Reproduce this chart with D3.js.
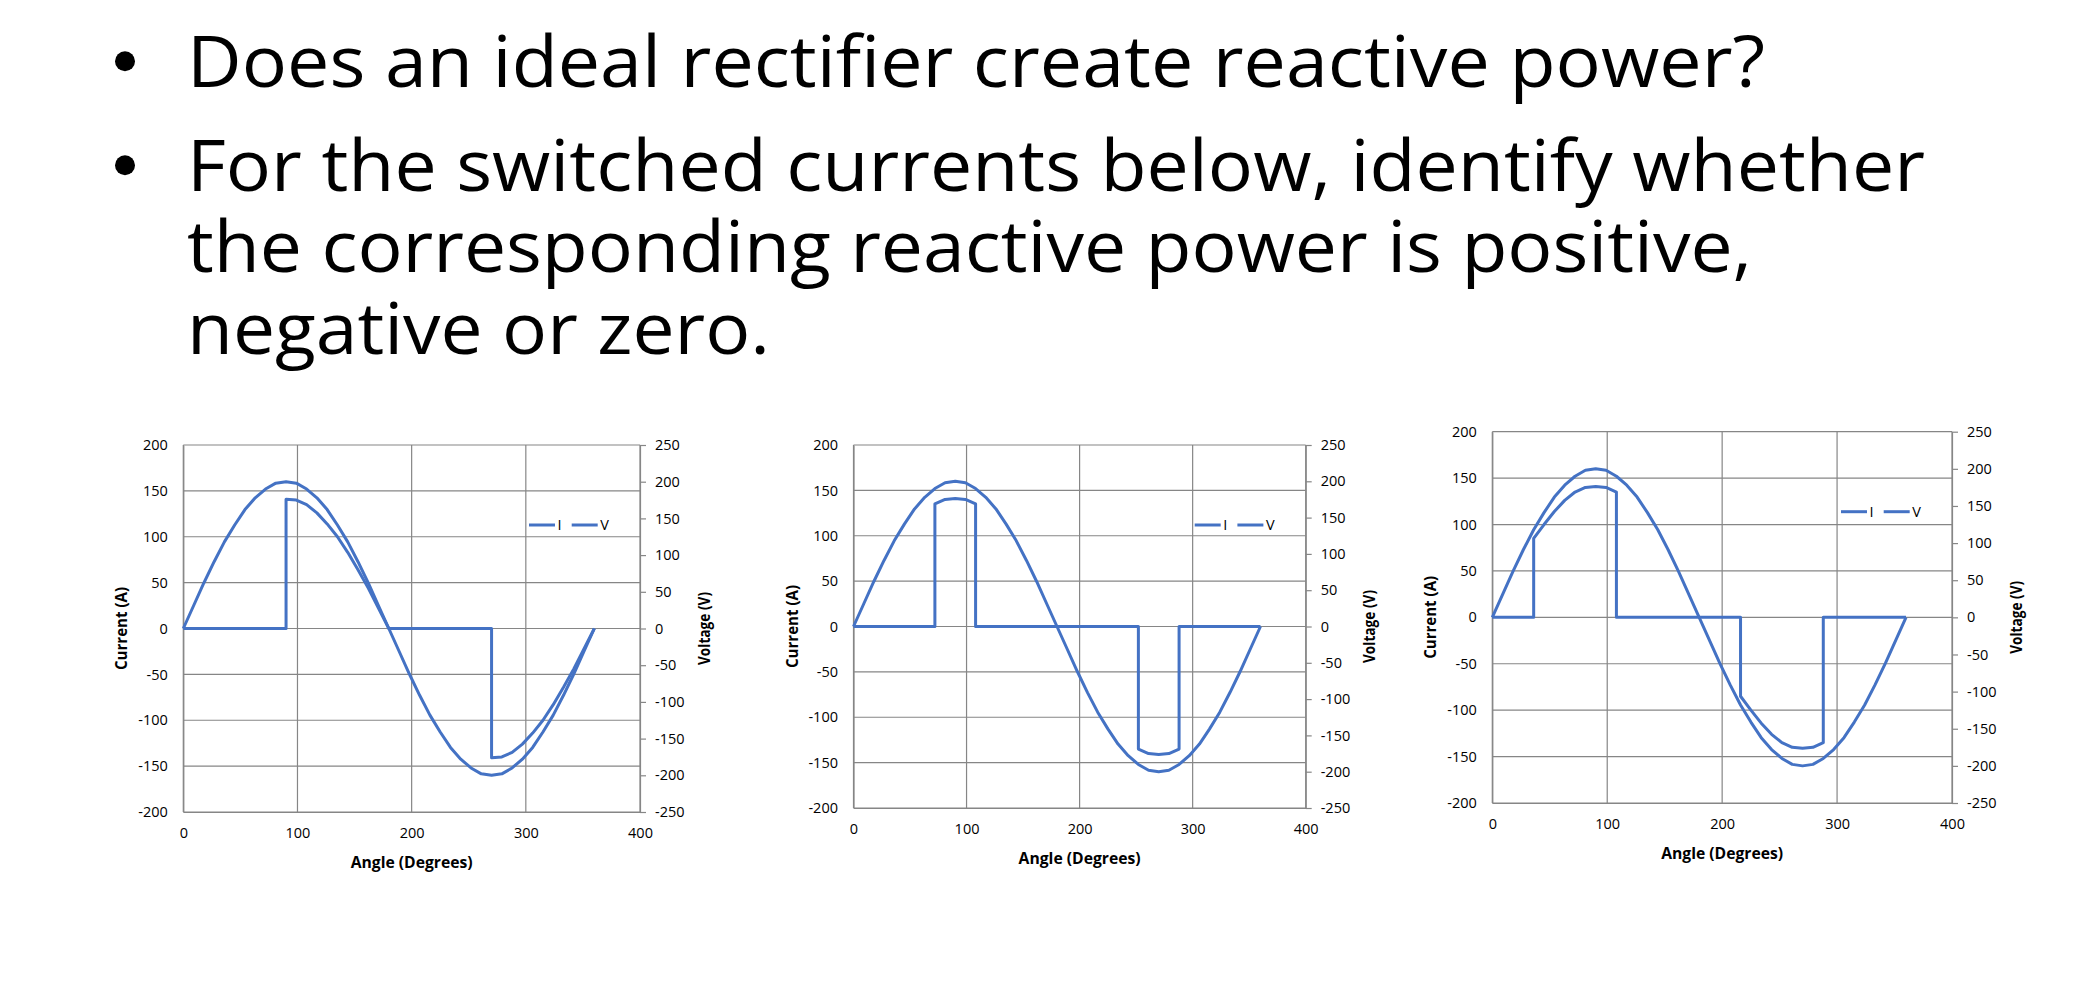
<!DOCTYPE html>
<html>
<head>
<meta charset="utf-8">
<title>Reactive power of switched currents</title>
<script src="https://cdn.jsdelivr.net/npm/d3@7"></script>
<style>
    body { margin: 0; background: #fff; }
    svg text { font-family: "Open Sans", sans-serif; }
</style>
</head>
<body>
<div id="slide"></div>
<script>

// slide text
var slideLines = [
    "Does an ideal rectifier create reactive power?",
    "For the switched currents below, identify whether",
    "the corresponding reactive power is positive,",
    "negative or zero."
];
var bulletOnLine = [true, true, false, false];

// axis ticks
var angleTicks = [0, 100, 200, 300, 400];
var currentTicks = [-200, -150, -100, -50, 0, 50, 100, 150, 200];
var voltageTicks = [-250, -200, -150, -100, -50, 0, 50, 100, 150, 200, 250];

// voltage samples (V), one every 9 degrees
var angles = [0, 9, 18, 27, 36, 45, 54, 63, 72, 81, 90, 99, 108, 117, 126, 135, 144, 153, 162, 171,
    180, 189, 198, 207, 216, 225, 234, 243, 252, 261, 270, 279, 288, 297, 306, 315, 324, 333, 342, 351, 360];
var voltage = [0, 31, 62, 91, 118, 141, 162, 178, 190, 198, 200, 198, 190, 178, 162, 141, 118, 91, 62, 31,
    0, -31, -62, -91, -118, -141, -162, -178, -190, -198, -200, -198, -190, -178, -162, -141, -118, -91, -62, -31, 0];

// switched currents (A): [angle, current]
var currentA = [[0, 0], [90, 0], [90, 141], [99, 140], [108, 135], [117, 126], [126, 114], [135, 100],
    [144, 83], [153, 64], [162, 44], [171, 22], [180, 0], [270, 0], [270, -141], [279, -140], [288, -135],
    [297, -126], [306, -114], [315, -100], [324, -83], [333, -64], [342, -44], [351, -22], [360, 0]];
var currentB = [[0, 0], [72, 0], [72, 135], [81, 140], [90, 141], [99, 140], [108, 135], [108, 0],
    [252, 0], [252, -135], [261, -140], [270, -141], [279, -140], [288, -135], [288, 0], [360, 0]];
var currentC = [[0, 0], [36, 0], [36, 85], [45, 100], [54, 114], [63, 126], [72, 135], [81, 140], [90, 141],
    [99, 140], [108, 135], [108, 0], [216, 0], [216, -85], [225, -100], [234, -114], [243, -126], [252, -135],
    [261, -140], [270, -141], [279, -140], [288, -135], [288, 0], [360, 0]];

var lineColor = "#4472C4";
var gridColor = "#868686";

var svg = d3.select("#slide").append("svg")
    .attr("width", 2086)
    .attr("height", 983);

// ---- bullet text ----
var textBaselines = [86.7, 190.7, 272, 354];
var textWidths = [1578, 1738, 1565, 583];

for (var i = 0; i < slideLines.length; i++) {
    svg.append("text")
        .attr("x", 187)
        .attr("y", textBaselines[i])
        .attr("font-size", 72)
        .attr("fill", "#000")
        .attr("textLength", textWidths[i])
        .attr("lengthAdjust", "spacingAndGlyphs")
        .text(slideLines[i]);
    if (bulletOnLine[i]) {
        svg.append("circle")
            .attr("cx", 125)
            .attr("cy", textBaselines[i] - 25.5)
            .attr("r", 10)
            .attr("fill", "#000");
    }
}

// ---- charts ----
ReactiveVis = function (_parent, _current, _box) {
    this.parent = _parent;
    this.current = _current;
    this.box = _box;

    this.initVis();
}

ReactiveVis.prototype.initVis = function () {
    var vis = this;
    var b = vis.box;
    var plain = function (d) { return String(d); };   // keep "-" like Excel

    vis.g = vis.parent.append("g");

    vis.x = d3.scaleLinear().domain([0, 400]).range([b.left, b.right]);
    vis.yI = d3.scaleLinear().domain([-200, 200]).range([b.bottom, b.top]);
    vis.yV = d3.scaleLinear().domain([-250, 250]).range([b.bottom, b.top]);

    // gridlines (also make the plot frame)
    vis.g.selectAll(".hgrid").data(currentTicks).enter().append("line")
        .attr("class", "hgrid")
        .attr("x1", b.left).attr("x2", b.right)
        .attr("y1", function (d) { return vis.yI(d); })
        .attr("y2", function (d) { return vis.yI(d); })
        .attr("stroke", gridColor).attr("stroke-width", 1.2);

    vis.g.selectAll(".vgrid").data(angleTicks).enter().append("line")
        .attr("class", "vgrid")
        .attr("y1", b.top).attr("y2", b.bottom)
        .attr("x1", function (d) { return vis.x(d); })
        .attr("x2", function (d) { return vis.x(d); })
        .attr("stroke", gridColor).attr("stroke-width", 1.2);

    // axes
    var left = vis.g.append("g")
        .attr("transform", "translate(" + b.left + ",0)")
        .call(d3.axisLeft(vis.yI).tickValues(currentTicks).tickFormat(plain).tickSize(0).tickPadding(15.5));
    var right = vis.g.append("g")
        .attr("transform", "translate(" + b.right + ",0)")
        .call(d3.axisRight(vis.yV).tickValues(voltageTicks).tickFormat(plain).tickSize(6).tickSizeOuter(0).tickPadding(9));
    var bottom = vis.g.append("g")
        .attr("transform", "translate(0," + b.bottom + ")")
        .call(d3.axisBottom(vis.x).tickValues(angleTicks).tickFormat(plain).tickSize(0).tickPadding(16));

    [left, right, bottom].forEach(function (a) {
        a.attr("color", "#000");
        a.selectAll("text").attr("font-size", 14.5).attr("font-family", "Open Sans, sans-serif");
        a.selectAll("line").attr("stroke", gridColor).attr("stroke-width", 1.2);
        a.select(".domain").attr("stroke", gridColor).attr("stroke-width", 1.2);
    });

    var midY = (b.top + b.bottom) / 2;

    vis.g.append("text")
        .attr("transform", "translate(" + (b.left - 62) + "," + midY + ") rotate(-90)")
        .attr("text-anchor", "middle")
        .attr("dominant-baseline", "central")
        .attr("font-size", 16).attr("font-weight", "bold")
        .attr("textLength", 83).attr("lengthAdjust", "spacingAndGlyphs")
        .text("Current (A)");

    vis.g.append("text")
        .attr("transform", "translate(" + (b.right + 63.5) + "," + midY + ") rotate(-90)")
        .attr("text-anchor", "middle")
        .attr("dominant-baseline", "central")
        .attr("font-size", 16).attr("font-weight", "bold")
        .attr("textLength", 73).attr("lengthAdjust", "spacingAndGlyphs")
        .text("Voltage (V)");

    vis.g.append("text")
        .attr("x", (b.left + b.right) / 2)
        .attr("y", b.bottom + 56)
        .attr("text-anchor", "middle")
        .attr("font-size", 16).attr("font-weight", "bold")
        .attr("textLength", 122).attr("lengthAdjust", "spacingAndGlyphs")
        .text("Angle (Degrees)");

    vis.updateVis();
}

ReactiveVis.prototype.updateVis = function () {
    var vis = this;
    var b = vis.box;

    var vLine = d3.line()
        .x(function (d) { return vis.x(d[0]); })
        .y(function (d) { return vis.yV(d[1]); });
    var iLine = d3.line()
        .x(function (d) { return vis.x(d[0]); })
        .y(function (d) { return vis.yI(d[1]); });

    var vData = angles.map(function (a, k) { return [a, voltage[k]]; });

    vis.g.append("path")
        .datum(vData)
        .attr("d", vLine)
        .attr("fill", "none")
        .attr("stroke", lineColor)
        .attr("stroke-width", 3)
        .attr("stroke-linejoin", "round");

    vis.g.append("path")
        .datum(vis.current)
        .attr("d", iLine)
        .attr("fill", "none")
        .attr("stroke", lineColor)
        .attr("stroke-width", 3)
        .attr("stroke-linejoin", "round");

    // legend
    var legend = vis.g.append("g")
        .attr("transform", "translate(" + (b.right - 111) + "," + (b.top + 80) + ")");
    var items = [{ label: "I", dx: 0 }, { label: "V", dx: 42.7 }];
    items.forEach(function (it) {
        legend.append("line")
            .attr("x1", it.dx).attr("x2", it.dx + 26)
            .attr("y1", 0).attr("y2", 0)
            .attr("stroke", lineColor).attr("stroke-width", 3);
        legend.append("text")
            .attr("x", it.dx + 28.5)
            .attr("y", 5)
            .attr("font-size", 14.5)
            .text(it.label);
    });
}

var boxes = [
    { left: 183.3, top: 445, right: 640, bottom: 812 },
    { left: 853.5, top: 445, right: 1305.7, bottom: 808 },
    { left: 1492.3, top: 431.7, right: 1952, bottom: 803 }
];

new ReactiveVis(svg, currentA, boxes[0]);
new ReactiveVis(svg, currentB, boxes[1]);
new ReactiveVis(svg, currentC, boxes[2]);

</script>
</body>
</html>
